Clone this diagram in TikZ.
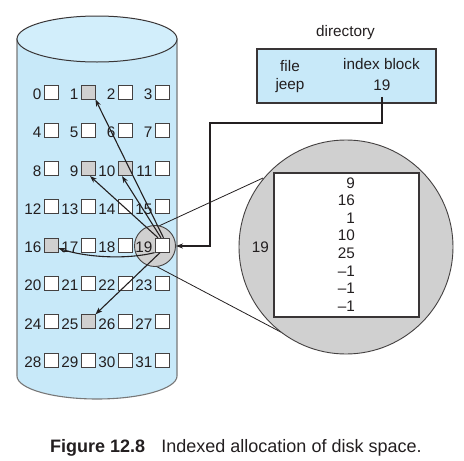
\documentclass[tikz,border=0pt]{standalone}
\usepackage{fontspec}
\setmainfont{Liberation Sans}
\usetikzlibrary{arrows.meta,calc}
\definecolor{diskblue}{RGB}{200,233,249}
\definecolor{disktop}{RGB}{210,238,251}
\definecolor{cellgray}{RGB}{208,208,208}
\definecolor{ink}{RGB}{35,31,32}
\definecolor{rimgray}{RGB}{120,120,120}
\begin{document}
\begin{tikzpicture}[x=1pt,y=-1pt,
  lbl/.style={font=\fontsize{15.3}{18}\selectfont, text=ink, inner sep=0pt},
  cell/.style={draw=ink!85, line width=0.9pt, minimum size=14pt, inner sep=0pt},
  ptr/.style={draw=ink, line width=1.1pt, -{Stealth[length=7pt,width=5pt]}},
  thin line/.style={draw=ink, line width=0.8pt},
]
\useasboundingbox (0,0) rectangle (464,461);

% disk cylinder
\path[fill=diskblue, draw=rimgray, line width=1.1pt]
  (17,39) -- (17,376) .. controls (17,388.7) and (52.8,399) .. (97,399)
  .. controls (141.2,399) and (177,388.7) .. (177,376) -- (177,39) -- cycle;
\draw[fill=disktop, draw=ink!90, line width=1pt] (97,39) ellipse [x radius=80, y radius=23];

% magnifier lines
\draw[thin line] (148,231) -- (263,178);
\draw[thin line] (148,262) -- (294,339);

% small circle round block 19
\node[circle, draw=ink!85, fill=cellgray, line width=0.9pt, minimum size=41pt, inner sep=0pt] (zc) at (155,246) {};

% blocks
\foreach \i in {0,...,31}{
  \pgfmathtruncatemacro\r{\i/4}
  \pgfmathtruncatemacro\c{mod(\i,4)}
  \gdef\fillc{white}
  \foreach \g in {1,9,10,16,25}{\ifnum\i=\g\relax\gdef\fillc{cellgray}\fi}
  \node[cell, fill=\fillc] (b\i) at ({51+37*\c},{92+38.3*\r}) {};
  \node[lbl, anchor=base east] (l\i) at ([xshift=-2pt]b\i.south west) {\i};
}

% big magnified circle
\node[circle, draw=ink!85, fill=cellgray, line width=0.9pt, minimum size=214pt, inner sep=0pt] (bc) at (346,247) {};
\node[draw=ink!90, fill=white, line width=1.6pt, minimum width=145pt, minimum height=144pt, inner sep=0pt] (ib) at (346.5,245) {};
\node[lbl, anchor=base east] (ibl) at (269,252) {19};
\foreach \v [count=\k from 0] in {9,16,1,10,25,–1,–1,–1}{
  \node[lbl, anchor=base east] (e\k) at (355,{188+17.6*\k}) {\v};
}

% directory
\node[lbl, anchor=base] (dirt) at (345.5,36.5) {directory};
\node[draw=ink!90, fill=diskblue, line width=1.1pt, minimum width=179pt, minimum height=54pt, inner sep=0pt] (dir) at (346.5,76) {};
\node[lbl, anchor=base] (dfile) at (290,71.5) {file};
\node[lbl, anchor=base] (dib) at (381.5,69.5) {index block};
\node[lbl, anchor=base] (djeep) at (290,89.5) {jeep};
\node[lbl, anchor=base] (d19) at (382,90.5) {19};
\coordinate (turn) at (210,123);
\draw[ptr] ($(d19.south)+(0,6)$) |- (turn) |- (zc.east);

% pointers from index block 19
\draw[ptr] ([xshift=1.5pt]b19.north) -- (b1.south east);
\draw[ptr] ([xshift=-1pt]b19.north) -- ([xshift=-3pt]b10.south);
\draw[ptr] ([xshift=-4pt]b19.north) -- ([xshift=2pt]b9.south);
\draw[ptr] (b19.south west) .. controls (125,260) and (85,257) .. ([yshift=-3pt]b16.east);
\draw[ptr] ([xshift=-2pt]b19.south) -- (b25.north east);

% caption
\node[anchor=base west, inner sep=0pt, text=ink, font=\fontsize{18}{21}\selectfont] (cap) at (50,452)
  {\textbf{Figure 12.8}\hspace{0.9em}Indexed allocation of disk space.};
\end{tikzpicture}
\end{document}
